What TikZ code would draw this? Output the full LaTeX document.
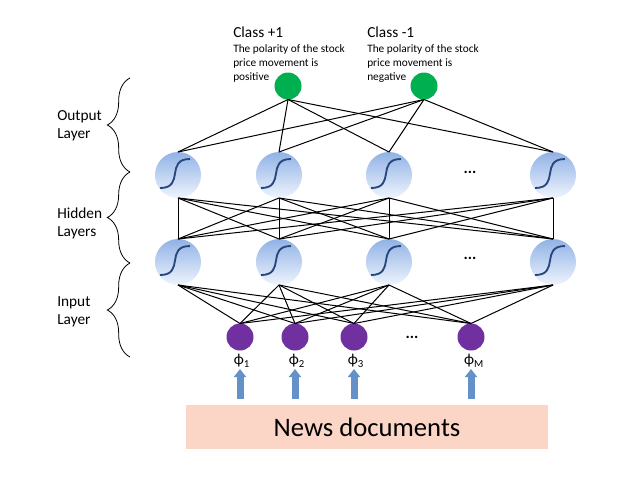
\documentclass[tikz,border=0pt]{standalone}
\usepackage{fontspec}
\setmainfont{Carlito}
\usetikzlibrary{arrows.meta,decorations.pathreplacing}

\definecolor{classgreen}{RGB}{0,176,80}
\definecolor{inpurple}{RGB}{112,48,160}
\definecolor{sigtop}{RGB}{145,178,230}
\definecolor{sigbot}{RGB}{238,244,253}
\definecolor{sigline}{RGB}{40,72,125}
\definecolor{docblue}{RGB}{100,145,200}
\definecolor{docfill}{RGB}{251,214,198}

\tikzset{
  link/.style={line width=0.75pt},
  outnode/.style={circle, inner sep=0pt, outer sep=0pt, minimum size=20.25pt, fill=classgreen},
  innode/.style={circle, inner sep=0pt, outer sep=0pt, minimum size=20.25pt, fill=inpurple},
  sig/.style={circle, inner sep=0pt, outer sep=0pt, minimum size=34.5pt,
    top color=sigtop, bottom color=sigbot,
    path picture={\draw[sigline, line width=1.4pt]
      ([shift={(-13.5pt,-9.75pt)}]path picture bounding box.center)
      .. controls +(19pt,0) and +(-19pt,0) ..
      ([shift={(9pt,12pt)}]path picture bounding box.center);}},
  layerbrace/.style={decorate, decoration={brace, amplitude=17pt}, line width=0.6pt},
  layerlabel/.style={anchor=west, align=left, inner sep=0pt, font=\fontsize{11.5}{13.5}\selectfont},
  classtitle/.style={anchor=base west, inner sep=0pt, font=\fontsize{11.5}{14}\selectfont},
  classdesc/.style={anchor=north west, align=left, inner sep=0pt, font=\fontsize{8.5}{10.5}\selectfont},
  philabel/.style={inner sep=1pt, font=\fontsize{11.5}{13}\selectfont},
  dots/.style={font=\bfseries\fontsize{12}{14}\selectfont},
  docarrow/.style={docblue, line width=5.25pt, -{Triangle[width=9pt,length=6pt]}},
  newsbox/.style={fill=docfill, minimum width=271.5pt, minimum height=33pt, inner sep=0pt,
    font=\fontsize{20}{24}\selectfont}
}

\begin{document}
\begin{tikzpicture}[x=0.75pt,y=-0.75pt]
  \useasboundingbox (0,0) rectangle (638,479);
  % output classes
  \node at (288,86) [outnode] (o1) {};
  \node at (424,86) [outnode] (o2) {};
  \node at (233,37) [classtitle] (c1) {Class +1};
  \node at (367,37) [classtitle] (c2) {Class -1};
  \node at (233,44) [classdesc] (d1) {The polarity of the stock\\price movement is\\positive};
  \node at (367,44) [classdesc] (d2) {The polarity of the stock\\price movement is\\negative};
  % hidden layers
  \node at (178,175) [sig] (ha1) {};
  \node at (279,175) [sig] (ha2) {};
  \node at (389,175) [sig] (ha3) {};
  \node at (553,175) [sig] (ha4) {};
  \node at (470,172) [dots] (hadots) {...};
  \node at (178,262) [sig] (hb1) {};
  \node at (279,262) [sig] (hb2) {};
  \node at (389,262) [sig] (hb3) {};
  \node at (553,262) [sig] (hb4) {};
  \node at (470,258) [dots] (hbdots) {...};
  % input features
  \node at (240,337) [innode] (in1) {};
  \node at (295,337) [innode] (in2) {};
  \node at (354,337) [innode] (in3) {};
  \node at (471,337) [innode] (in4) {};
  \node at (412,337) [dots] (indots) {...};
  \node at (242,361) [philabel] (p1) {ϕ\textsubscript{1}};
  \node at (297,361) [philabel] (p2) {ϕ\textsubscript{2}};
  \node at (356,361) [philabel] (p3) {ϕ\textsubscript{3}};
  \node at (474,361) [philabel] (p4) {ϕ\textsubscript{M}};
  % links
  \foreach \o in {1,2}
    \foreach \h in {1,...,4}
      \draw[link] (o\o.south) -- (ha\h.north);
  \foreach \h in {1,...,4}
    \foreach \g in {1,...,4}
      \draw[link] (ha\h.south) -- (hb\g.north);
  \foreach \i in {1,...,4}
    \foreach \g in {1,...,4}
      \draw[link] (in\i.north) -- (hb\g.south);
  % documents
  \node at (367,427) [newsbox] (news) {News documents};
  \coordinate (a1) at (240,399);
  \coordinate (a2) at (295,399);
  \coordinate (a3) at (354,399);
  \coordinate (a4) at (471,399);
  \draw[docarrow] (a1) -- (a1 |- p1.south);
  \draw[docarrow] (a2) -- (a2 |- p2.south);
  \draw[docarrow] (a3) -- (a3 |- p3.south);
  \draw[docarrow] (a4) -- (a4 |- p4.south);
  % layer braces
  \coordinate (b0) at (130,78);
  \coordinate (b1) at (130,172);
  \coordinate (b2) at (130,263);
  \coordinate (b3) at (130,357);
  \draw[layerbrace] (b1) -- (b0);
  \draw[layerbrace] (b2) -- (b1);
  \draw[layerbrace] (b3) -- (b2);
  \node at (57,126) [layerlabel] (lout) {Output\\Layer};
  \node at (57,223) [layerlabel] (lhid) {Hidden\\Layers};
  \node at (57,312) [layerlabel] (linp) {Input\\Layer};
\end{tikzpicture}
\end{document}
